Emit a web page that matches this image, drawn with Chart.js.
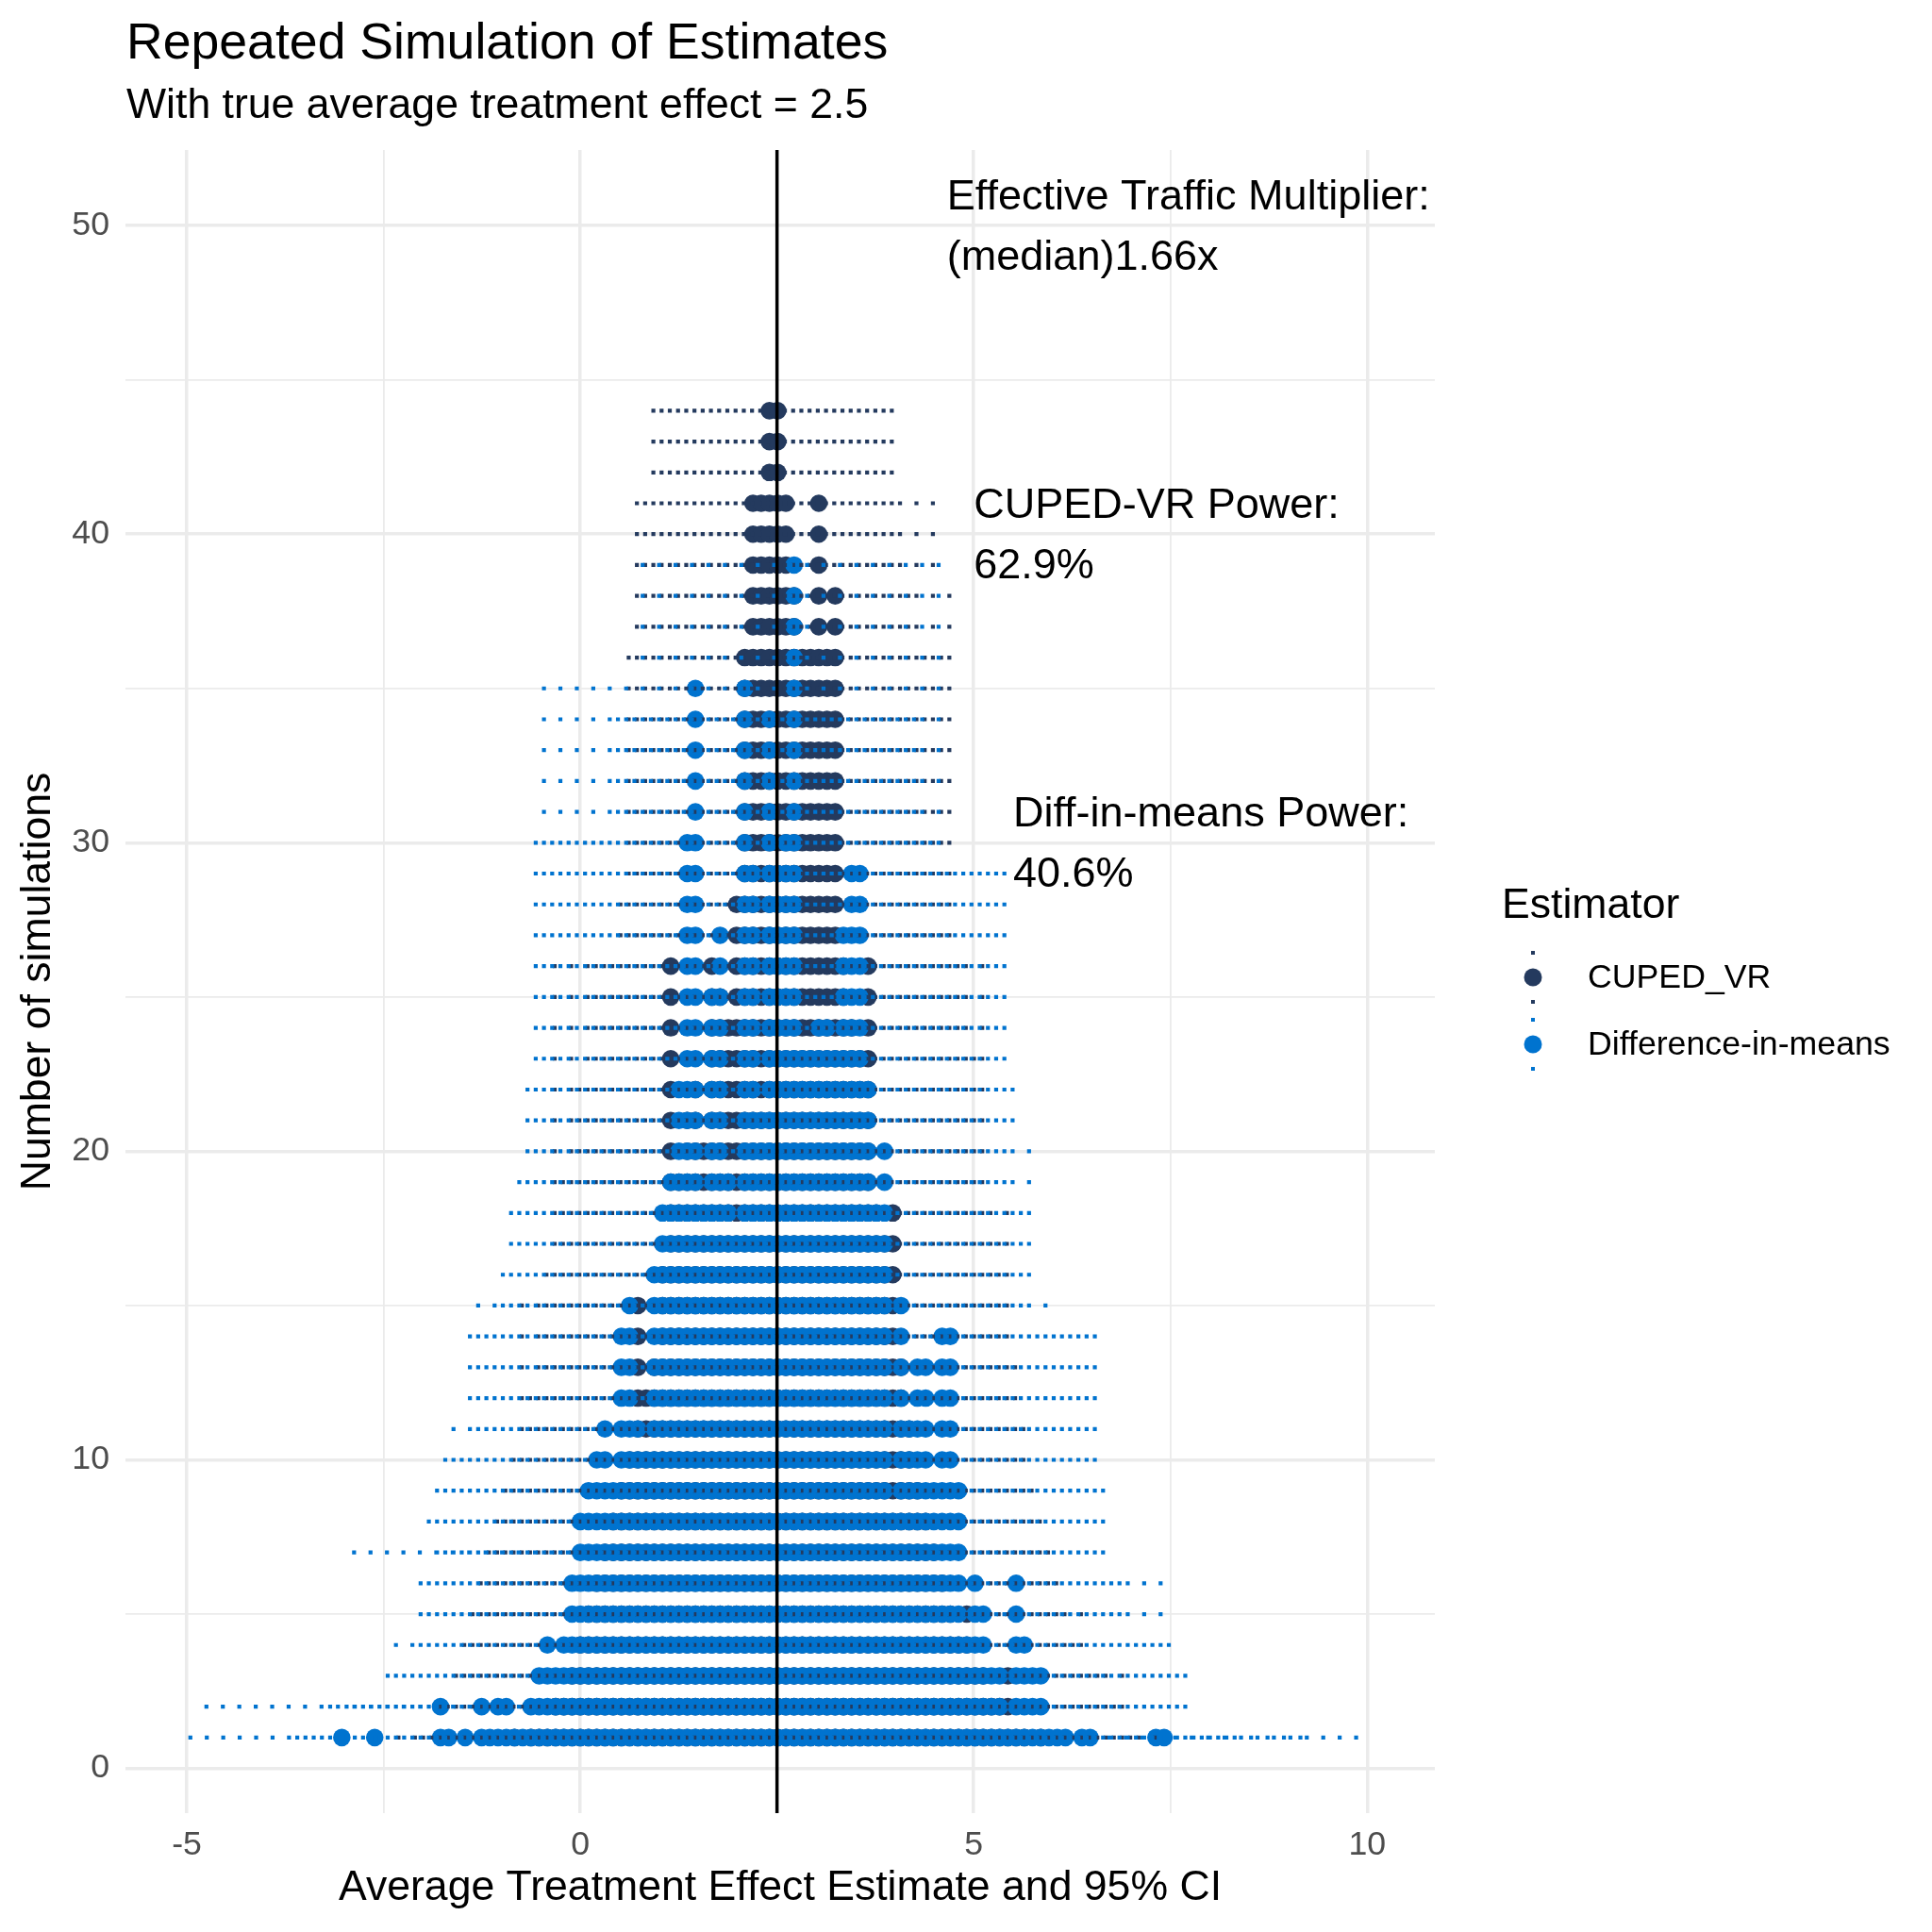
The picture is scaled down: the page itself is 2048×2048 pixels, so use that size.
<!DOCTYPE html>
<html>
<head>
<meta charset="utf-8">
<script src="https://cdn.jsdelivr.net/npm/chart.js@4.4.1/dist/chart.umd.min.js"></script>
<style>
  html, body { margin: 0; padding: 0; background: #ffffff; }
  #wrap { width: 2048px; height: 2048px; }
</style>
</head>
<body>
<div id="wrap"><canvas id="c" width="2048" height="2048"></canvas></div>
<script>
// ---------- texts ----------
const titleText = 'Repeated Simulation of Estimates';
const subtitleText = 'With true average treatment effect = 2.5';
const xAxisTitle = 'Average Treatment Effect Estimate and 95% CI';
const yAxisTitle = 'Number of simulations';
const legendTitle = 'Estimator';
const estimators = ['CUPED_VR', 'Difference-in-means'];
const estimatorColors = ['#243A5E', '#0073CF'];

// ---------- data ----------
const trueEffect = 2.5;
const binWidth = 0.1045;           // estimates binned at this width (dot-plot stacking)

// CUPED_VR: bin index and number of simulations stacked in that bin
const cupedBins   = [-8,-6,-5,-4,-3,-2,-1,0,1,2,3,4,5,6,7,8,9,10,11,12,13,14,15,16,17,18,19,20,21,22,23,24,25,26,27,28,29,30,31,32,33,34,35,36,37,38,39,40,41,42,43,44,45,46,47,48,49,50,51,52,53,54,56];
const cupedCounts = [ 1, 1, 1, 1, 2, 2, 3,4,5,6,7,8,9,10,15,12,13,16,26,19,21,22,20,26,25,24,28,36,41,41,44,44,41,38,36,36,41,36,38,26,24,23,26,18,17,18,13,11, 9, 8, 7, 6, 5, 4, 5, 3, 3, 2, 2, 3, 1, 1, 1];

// Difference-in-means
const dimBins   = [-29,-25,-17,-16,-14,-12,-11,-10,-9,-8,-7,-6,-5,-4,-3,-2,-1,0,1,2,3,4,5,6,7,8,9,10,11,12,13,14,15,16,17,18,19,20,21,22,23,24,25,26,27,28,29,30,31,32,33,34,35,36,37,38,39,40,41,42,43,44,45,46,47,48,49,50,51,52,53,54,55,56,57,58,59,61,62,70,71];
const dimCounts = [  1,  1,  2,  1,  1,  2,  1,  2, 2, 1, 1, 2, 3, 4, 3, 4, 6,8,9,10,11,9,14,15,11,10,16,18,19,22,30,35,18,25,27,19,17,35,29,21,34,29,30,39,23,23,24,24,23,27,29,29,22,18,20, 8,15,11,13,13, 9,14,14, 9, 4, 6, 5, 3, 3, 1, 6, 4, 3, 3, 1, 1, 1, 1, 1, 1, 1];

// 95% CI half widths (typical), plus the few visibly wider intervals of Difference-in-means
const cupedCiHalfWidth = 1.5;
const dimCiHalfWidth = 1.95;
const dimWideCiBins = [71, -17, 0];
const dimWideCiRows = [1, 2, 7];
const dimWideCiHalfWidths = [2.6, 3.0, 2.9];

// ---------- ticks ----------
const xMajorTicks = [-5, 0, 5, 10];
const xMinorTicks = [-2.5, 2.5, 7.5];
const yMajorTicks = [0, 10, 20, 30, 40, 50];
const yMinorTicks = [5, 15, 25, 35, 45];

// ---------- annotations ----------
const annotationLines = [
  ['Effective Traffic Multiplier:', '(median)1.66x'],
  ['CUPED-VR Power:', '62.9%'],
  ['Diff-in-means Power:', '40.6%']
];
const annotationX = [4.66, 5.0, 5.5];
const annotationY = [50, 40, 30];

// ---------- build marks from data ----------
function stackPoints(bins, counts) {
  const pts = [];
  bins.forEach((k, i) => {
    for (let j = 1; j <= counts[i]; j++) pts.push({ x: k * binWidth, y: j, bin: k });
  });
  return pts;
}
function ciSegments(points, hw, wideBins, wideRows, wideHw) {
  const d = [];
  points.forEach(p => {
    let h = hw;
    if (wideBins) {
      for (let i = 0; i < wideBins.length; i++) {
        if (wideBins[i] === p.bin && wideRows[i] === p.y) h = wideHw[i];
      }
    }
    d.push({ x: p.x - h, y: p.y }, { x: p.x + h, y: p.y }, { x: p.x + h, y: null });
  });
  return d;
}
const cupedPts = stackPoints(cupedBins, cupedCounts);
const dimPts = stackPoints(dimBins, dimCounts);

const FONT = '"Liberation Sans", Arial, Helvetica, sans-serif';
const sortedNum = (a, b) => a - b;
const BASE = 44.6;

const overlayPlugin = {
  id: 'overlay',
  afterDatasetsDraw(chart) {
    const { ctx, chartArea, scales } = chart;
    const xs = scales.x, ys = scales.y;
    ctx.save();
    const xp = xs.getPixelForValue(trueEffect);
    ctx.beginPath();
    ctx.strokeStyle = '#000000';
    ctx.lineWidth = 3.5;
    ctx.moveTo(xp, chartArea.top);
    ctx.lineTo(xp, chartArea.bottom);
    ctx.stroke();
    ctx.fillStyle = '#000000';
    ctx.font = '45px ' + FONT;
    ctx.textAlign = 'left';
    ctx.textBaseline = 'middle';
    annotationLines.forEach((lines, i) => {
      const px = xs.getPixelForValue(annotationX[i]);
      const py = ys.getPixelForValue(annotationY[i]);
      const lh = 64;
      const start = py - (lines.length - 1) * lh / 2;
      lines.forEach((t, j) => ctx.fillText(t, px, start + j * lh + 2));
    });
    ctx.restore();
  },
  afterDraw(chart) {
    const { ctx } = chart;
    ctx.save();
    ctx.fillStyle = '#000000';
    ctx.textAlign = 'left';
    ctx.textBaseline = 'alphabetic';
    ctx.font = '53.6px ' + FONT;
    ctx.fillText(titleText, 134, 62);
    ctx.font = BASE + 'px ' + FONT;
    ctx.fillText(subtitleText, 134, 125);
    ctx.fillText(legendTitle, 1592, 973);
    const keyY = [1036, 1107];
    estimators.forEach((name, i) => {
      const cx = 1625, cy = keyY[i];
      ctx.fillStyle = estimatorColors[i];
      [-26, 26].forEach(off => ctx.fillRect(cx - 2, cy + off - 2, 4, 4));
      ctx.beginPath();
      ctx.arc(cx, cy, 9.5, 0, Math.PI * 2);
      ctx.fill();
      ctx.fillStyle = '#000000';
      ctx.font = '35.7px ' + FONT;
      ctx.textBaseline = 'middle';
      ctx.fillText(name, 1683, cy + 1);
      ctx.textBaseline = 'alphabetic';
    });
    ctx.restore();
  }
};

const pointStyleOf = (color, order) => ({
  type: 'scatter', showLine: false, pointRadius: 9.3, pointHoverRadius: 9.3,
  pointBackgroundColor: color, pointBorderWidth: 0, backgroundColor: color, borderColor: color, order
});
const lineStyleOf = (color, order) => ({
  type: 'scatter', showLine: true, spanGaps: false, pointRadius: 0, pointHoverRadius: 0,
  borderColor: color, borderWidth: 4.2, borderDash: [4.2, 13.23], borderCapStyle: 'butt', order
});

new Chart(document.getElementById('c'), {
  type: 'scatter',
  data: {
    datasets: [
      Object.assign({ label: estimators[1] + ' CI', data: ciSegments(dimPts, dimCiHalfWidth, dimWideCiBins, dimWideCiRows, dimWideCiHalfWidths) }, lineStyleOf(estimatorColors[1], 1)),
      Object.assign({ label: estimators[0] + ' CI', data: ciSegments(cupedPts, cupedCiHalfWidth) }, lineStyleOf(estimatorColors[0], 2)),
      Object.assign({ label: estimators[1], data: dimPts }, pointStyleOf(estimatorColors[1], 3)),
      Object.assign({ label: estimators[0], data: cupedPts }, pointStyleOf(estimatorColors[0], 4))
    ]
  },
  options: {
    responsive: false,
    devicePixelRatio: 1,
    animation: false,
    events: [],
    layout: { padding: { top: 159, right: 527, bottom: 0, left: 0 } },
    plugins: { legend: { display: false }, tooltip: { enabled: false }, title: { display: false } },
    scales: {
      x: {
        type: 'linear', min: -5.78, max: 10.86,
        afterFit(scale) { scale.height = 126; },
        afterBuildTicks(scale) { scale.ticks = xMajorTicks.concat(xMinorTicks).sort(sortedNum).map(v => ({ value: v })); },
        border: { display: false },
        grid: {
          color: '#EBEBEB', drawTicks: false,
          lineWidth: c => (xMajorTicks.includes(c.tick.value) ? 3.5 : 1.8)
        },
        ticks: {
          autoSkip: false, maxRotation: 0, padding: 13, color: '#4D4D4D',
          font: { family: FONT, size: 35.7 },
          callback: v => (xMajorTicks.includes(v) ? String(v) : '')
        },
        title: { display: true, text: xAxisTitle, color: '#000000', font: { family: FONT, size: BASE }, padding: { top: 0, bottom: 20 } }
      },
      y: {
        type: 'linear', min: -1.45, max: 52.45,
        afterFit(scale) { scale.width = 133; },
        afterBuildTicks(scale) { scale.ticks = yMajorTicks.concat(yMinorTicks).sort(sortedNum).map(v => ({ value: v })); },
        border: { display: false },
        grid: {
          color: '#EBEBEB', drawTicks: false,
          lineWidth: c => (yMajorTicks.includes(c.tick.value) ? 3.5 : 1.8)
        },
        ticks: {
          autoSkip: false, padding: 17, color: '#4D4D4D',
          font: { family: FONT, size: 35.7 },
          callback: v => (yMajorTicks.includes(v) ? String(v) : '')
        },
        title: { display: true, text: yAxisTitle, color: '#000000', font: { family: FONT, size: BASE }, padding: { top: 14, bottom: 0 } }
      }
    }
  },
  plugins: [overlayPlugin]
});
</script>
</body>
</html>
